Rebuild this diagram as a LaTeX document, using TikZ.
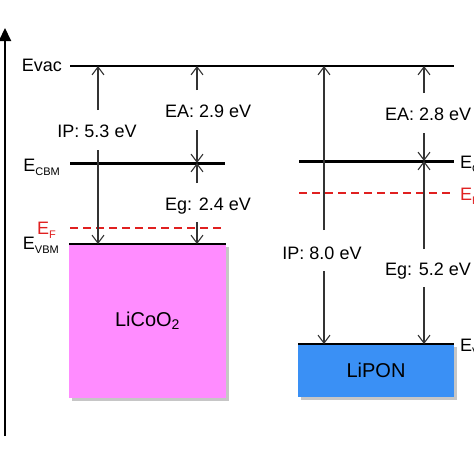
\documentclass[tikz,border=0pt]{standalone}
\usepackage{fontspec}
\setmainfont{Liberation Sans}
\usetikzlibrary{arrows.meta,shadows}
\definecolor{pinkbox}{HTML}{FF8CFF}
\definecolor{bluebox}{HTML}{3A90F5}
\definecolor{efred}{HTML}{E02020}
\definecolor{arrgray}{HTML}{333333}
\newcommand{\lvsub}[1]{\raisebox{-4pt}{\fontsize{11}{12}\selectfont #1}}
\begin{document}
\begin{tikzpicture}[x=1pt,y=-1pt,
  lbl/.style={font=\fontsize{18}{20}\selectfont, inner sep=0pt},
  lvl/.style={line width=2pt},
  cbm/.style={line width=3pt},
  fermi/.style={efred, line width=2.5pt, dash pattern=on 8pt off 5pt},
  arr/.style={arrgray, line width=1.1pt, -{Straight Barb[length=8pt,width=12pt]}},
  box/.style={draw=none, inner sep=0pt, font=\fontsize{20}{22}\selectfont,
    drop shadow={shadow xshift=3pt,shadow yshift=-3pt,opacity=0.45}},
]
\useasboundingbox (0,0) rectangle (474,474);

% axis
\coordinate (axb) at (5,436);
\coordinate (axt) at (5,28);
\draw[line width=2pt, -{Triangle[length=13pt,width=12pt]}] (axb) -- (axt);

% boxes
\node[box, fill=pinkbox, minimum width=157pt, minimum height=154pt] (licoo) at (147.5,321) {LiCoO\textsubscript{2}};
\node[box, fill=bluebox, minimum width=156pt, minimum height=53pt] (lipon) at (376,370.5) {LiPON};

% levels
\draw[lvl] (70,66) -- (454,66);
\draw[cbm] (70,163) -- (225,163);
\draw[fermi] (70,228) -- (225,228);
\draw[lvl] (69,244) -- (226,244);
\draw[cbm] (299,161) -- (454,161);
\draw[fermi] (299,193) -- (454,193);
\draw[lvl] (298,344) -- (454,344);

% level labels
\node[lbl, anchor=base east] (evac) at (62,71) {Evac};
\node[lbl, anchor=base east] (cbmL) at (60,171) {E\lvsub{CBM}};
\node[lbl, anchor=base east, text=efred] (efL) at (56,234) {E\lvsub{F}};
\node[lbl, anchor=base east] (vbmL) at (59,249) {E\lvsub{VBM}};
\node[lbl, anchor=base west] (cbmR) at (460,168) {E\lvsub{CBM}};
\node[lbl, anchor=base west, text=efred] (efR) at (460,200) {E\lvsub{F}};
\node[lbl, anchor=base west] (vbmR) at (460,351) {E\lvsub{VBM}};

% quantity labels
\node[lbl, anchor=base] (ipL) at (97,137) {IP: 5.3 eV};
\node[lbl, anchor=base west] (eaL) at (165,117) {EA: 2.9 eV};
\node[lbl, anchor=base west] (egL) at (165,210) {Eg: 2.4 eV};
\node[lbl, anchor=base] (ipR) at (322,259) {IP: 8.0 eV};
\node[lbl, anchor=base west] (eaR) at (385,120) {EA: 2.8 eV};
\node[lbl, anchor=base west] (egR) at (385,275) {Eg: 5.2 eV};

% arrow end points
\coordinate (ipLa) at (98,110);  \coordinate (ipLt) at (98,66);
\coordinate (ipLb) at (98,150);  \coordinate (ipLv) at (98,244);
\coordinate (eaLa) at (197,90);  \coordinate (eaLt) at (197,66);
\coordinate (eaLb) at (197,130); \coordinate (eaLc) at (197,163);
\coordinate (egLa) at (197,183); \coordinate (egLc) at (197,163);
\coordinate (egLb) at (197,222); \coordinate (egLv) at (197,244);
\coordinate (ipRa) at (324,230); \coordinate (ipRt) at (324,66);
\coordinate (ipRb) at (324,271); \coordinate (ipRv) at (324,344);
\coordinate (eaRa) at (424,93);  \coordinate (eaRt) at (424,66);
\coordinate (eaRb) at (424,133); \coordinate (eaRc) at (424,161);
\coordinate (egRa) at (424,249); \coordinate (egRc) at (424,161);
\coordinate (egRb) at (424,287); \coordinate (egRv) at (424,344);

\draw[arr] (ipLa) -- (ipLt);
\draw[arr] (ipLb) -- (ipLv);
\draw[arr] (eaLa) -- (eaLt);
\draw[arr] (eaLb) -- (eaLc);
\draw[arr] (egLa) -- (egLc);
\draw[arr] (egLb) -- (egLv);
\draw[arr] (ipRa) -- (ipRt);
\draw[arr] (ipRb) -- (ipRv);
\draw[arr] (eaRa) -- (eaRt);
\draw[arr] (eaRb) -- (eaRc);
\draw[arr] (egRa) -- (egRc);
\draw[arr] (egRb) -- (egRv);
\end{tikzpicture}
\end{document}
